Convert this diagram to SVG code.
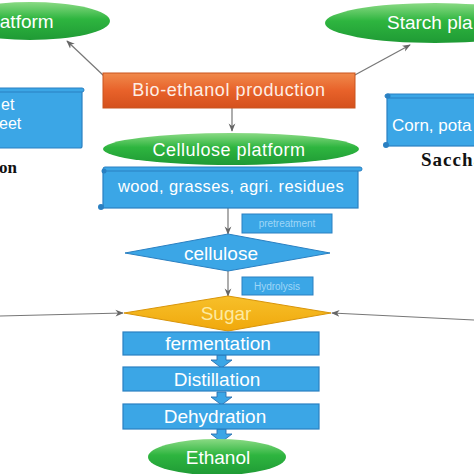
<svg xmlns="http://www.w3.org/2000/svg" width="474" height="474" viewBox="0 0 474 474">
<defs>
<linearGradient id="gGreen" x1="0" y1="0" x2="0" y2="1">
<stop offset="0" stop-color="#8ada84"/>
<stop offset="0.45" stop-color="#2eb53f"/>
<stop offset="1" stop-color="#1f9a35"/>
</linearGradient>
<linearGradient id="gOrange" x1="0" y1="0" x2="0" y2="1">
<stop offset="0" stop-color="#f08a4c"/>
<stop offset="0.5" stop-color="#e8622a"/>
<stop offset="1" stop-color="#d4501c"/>
</linearGradient>
<linearGradient id="gYellow" x1="0" y1="0" x2="0" y2="1">
<stop offset="0" stop-color="#f7c02a"/>
<stop offset="1" stop-color="#f0a80c"/>
</linearGradient>
<marker id="arr" viewBox="0 0 10 10" refX="9" refY="5" markerWidth="7" markerHeight="7" orient="auto">
<path d="M0,1 L10,5 L0,9 L3,5 Z" fill="#666"/>
</marker>
<style>
.lbl{font-family:"Liberation Sans",Arial,sans-serif;text-anchor:middle;fill:#ffffff}
.big{font-size:18px;letter-spacing:0.5px}
.sm{font-size:10px;fill:#9fd6f7}
.box{fill:#3ba6e6;stroke:#2a80c2;stroke-width:1.2}
.ell{fill:url(#gGreen)}
.con{stroke:#777;stroke-width:1.2;fill:none;marker-end:url(#arr)}
.blk{fill:#3ba6e6;stroke:#2a6fb0;stroke-width:0.9}
.serif{font-family:"Liberation Serif","Times New Roman",serif;font-weight:bold;fill:#111}
</style>
</defs>
<rect width="474" height="474" fill="#ffffff"/>

<g id="connectors">
<line class="con" x1="104" y1="76" x2="67" y2="41"/>
<line class="con" x1="353" y1="76" x2="410" y2="45"/>
<line class="con" x1="232" y1="108" x2="232" y2="131"/>
<line class="con" x1="228" y1="208" x2="228" y2="234"/>
<line class="con" x1="228" y1="271" x2="228" y2="296"/>
<line class="con" x1="0" y1="316" x2="123" y2="313"/>
<line class="con" x1="474" y1="320" x2="332" y2="313"/>
<path class="blk" d="M217,355 h9 v5 h6 l-10.5,8 l-10.5,-8 h6 z"/>
<path class="blk" d="M217,392 h9 v5 h6 l-10.5,8 l-10.5,-8 h6 z"/>
<path class="blk" d="M217,429 h9 v5 h6 l-10.5,8 l-10.5,-8 h6 z"/>
</g>

<g id="sugar-platform">
<ellipse class="ell" cx="30" cy="21" rx="80" ry="19"/>
<text class="lbl" x="-15" y="28" font-size="19" style="text-anchor:start">platform</text>
</g>

<g id="starch-platform">
<ellipse class="ell" cx="435" cy="23" rx="110" ry="20"/>
<text class="lbl" x="387" y="29" font-size="19" style="text-anchor:start">Starch pla</text>
</g>

<g id="bioethanol">
<rect x="103" y="73" width="252" height="35" fill="url(#gOrange)" stroke="#c9541f" stroke-width="1"/>
<text class="lbl big" x="229" y="96" style="fill:#fdeee4;letter-spacing:0.6px">Bio-ethanol production</text>
</g>

<g id="left-scroll">
<rect class="box" x="-10" y="90" width="92" height="58" rx="2"/>
<rect x="-10" y="88" width="94" height="4" rx="2" fill="#3ba6e6" stroke="#2a80c2" stroke-width="1"/>
<text class="lbl" x="1" y="110" font-size="16" style="text-anchor:start">et</text>
<text class="lbl" x="-1" y="129" font-size="16" style="text-anchor:start">eet</text>
</g>
<text id="left-caption" class="serif" x="-1" y="173" font-size="17">on</text>

<g id="right-scroll">
<rect class="box" x="387" y="96" width="100" height="50"/>
<rect x="385" y="94" width="100" height="4" rx="2" fill="#3ba6e6" stroke="#2a80c2" stroke-width="1"/>
<circle cx="388" cy="96" r="2.5" fill="#2a80c2"/>
<circle cx="386" cy="145" r="3" fill="#2a80c2"/>
<text class="lbl" x="392" y="131" font-size="17" style="text-anchor:start">Corn, pota</text>
</g>
<text id="right-caption" class="serif" x="421" y="166" font-size="19" style="letter-spacing:1px">Saccha</text>

<g id="cellulose-platform">
<ellipse class="ell" cx="231" cy="149" rx="128" ry="16"/>
<text class="lbl big" x="229" y="156">Cellulose platform</text>
</g>

<g id="feedstock">
<rect class="box" x="103" y="170" width="255" height="38"/>
<rect x="103" y="167" width="259" height="4" rx="2" fill="#3ba6e6" stroke="#2a80c2" stroke-width="1"/>
<circle cx="104" cy="171" r="2.5" fill="#2a80c2"/>
<circle cx="101" cy="207" r="3" fill="#2a80c2"/>
<text class="lbl" x="231" y="192" font-size="16.5" style="letter-spacing:0.4px">wood, grasses, agri. residues</text>
</g>

<g id="pretreatment">
<rect x="242" y="214" width="90" height="19" fill="#3ba6e6" stroke="#2a80c2" stroke-width="1"/>
<text class="lbl sm" x="287" y="227">pretreatment</text>
</g>

<g id="cellulose">
<path d="M125,253 L228,234 L330,253 L228,271 Z" fill="#3ba6e6" stroke="#2a80c2" stroke-width="1"/>
<text class="lbl" x="221" y="260" font-size="19">cellulose</text>
</g>

<g id="hydrolysis">
<rect x="242" y="277" width="71" height="18" fill="#3ba6e6" stroke="#2a80c2" stroke-width="1"/>
<text class="lbl sm" x="277" y="290">Hydrolysis</text>
</g>

<g id="sugar">
<path d="M124,313 L228,296 L331,313 L228,331 Z" fill="url(#gYellow)" stroke="#d9950a" stroke-width="1"/>
<text class="lbl" x="226" y="320" font-size="19" style="fill:#fdeaa0">Sugar</text>
</g>

<g id="fermentation">
<rect class="box" x="123" y="332" width="196" height="23"/>
<text class="lbl" x="218" y="350" font-size="19">fermentation</text>
</g>

<g id="distillation">
<rect class="box" x="123" y="367" width="196" height="24"/>
<text class="lbl" x="217" y="386" font-size="19">Distillation</text>
</g>

<g id="dehydration">
<rect class="box" x="123" y="404" width="196" height="25"/>
<text class="lbl" x="215" y="423" font-size="19">Dehydration</text>
</g>

<g id="ethanol">
<ellipse class="ell" cx="217" cy="457" rx="69" ry="18"/>
<text class="lbl" x="218" y="464" font-size="19">Ethanol</text>
</g>
</svg>
